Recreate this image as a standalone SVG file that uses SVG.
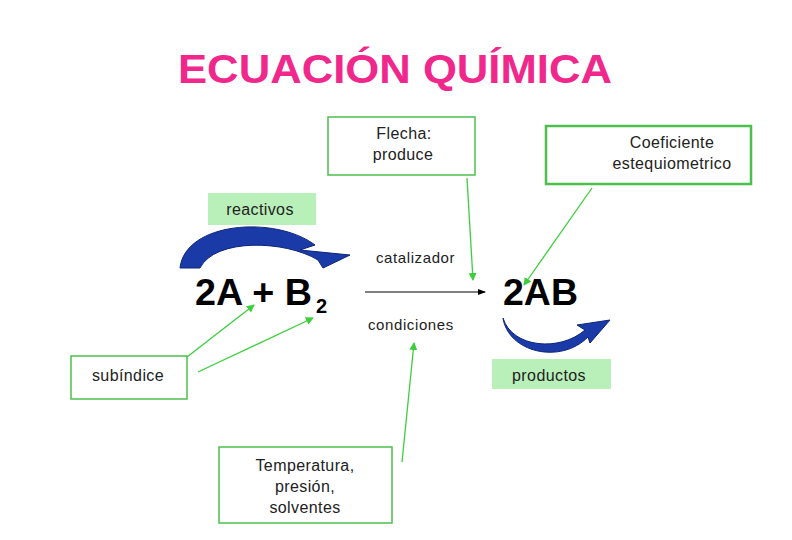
<svg xmlns="http://www.w3.org/2000/svg" width="792" height="540" viewBox="0 0 792 540">
<style>
.t{font-family:"Liberation Sans",Arial,sans-serif;fill:#222}
.lbl{font-size:16px;text-anchor:middle;letter-spacing:0.4px}
.box{fill:#fff;stroke:#4cc04c;stroke-width:1.5}
.fill{fill:#b9efb9}
.big{font-size:36px;fill:#000;font-weight:bold}
.g{stroke:#3ccf3c;stroke-width:1.3;fill:none;marker-end:url(#ga)}
</style>
<defs>
<marker id="ga" markerWidth="8" markerHeight="8" refX="7" refY="4" orient="auto" markerUnits="userSpaceOnUse"><path d="M0,0 L8,4 L0,8 z" fill="#3ccf3c"/></marker>
<marker id="ka" markerWidth="8" markerHeight="8" refX="7" refY="4" orient="auto" markerUnits="userSpaceOnUse"><path d="M0,1 L8,4 L0,7 z" fill="#000"/></marker>
</defs>
<rect width="792" height="540" fill="#fff"/>
<g id="title"><text x="178" y="83" class="t" font-size="40" font-weight="bold" textLength="434" lengthAdjust="spacingAndGlyphs" style="fill:#f0288c">ECUACIÓN QUÍMICA</text></g>
<g id="flecha"><rect class="box" x="328" y="117" width="147" height="58"/><text class="t lbl" x="404" y="139">Flecha:</text><text class="t lbl" x="403" y="160">produce</text></g>
<g id="coef"><rect class="box" x="546" y="126" width="205" height="58" style="stroke-width:2.5"/><text class="t lbl" x="672" y="148">Coeficiente</text><text class="t lbl" x="672" y="169">estequiometrico</text></g>
<g id="reactivos"><rect class="fill" x="208" y="193" width="108" height="32"/><text class="t lbl" x="260" y="215">reactivos</text></g>
<g id="subindice"><rect class="box" x="71" y="356" width="116" height="43"/><text class="t lbl" x="128" y="381">subíndice</text></g>
<g id="productos"><rect class="fill" x="492" y="359" width="119" height="30"/><text class="t lbl" x="549" y="381">productos</text></g>
<g id="temp"><rect class="box" x="219" y="447" width="173" height="76"/><text class="t lbl" x="305" y="471">Temperatura,</text><text class="t lbl" x="305" y="492">presión,</text><text class="t lbl" x="305" y="513">solventes</text></g>
<g id="eq">
<text class="t big" x="195" y="305" textLength="117" lengthAdjust="spacingAndGlyphs">2A + B</text><text class="t" x="316" y="313" font-size="20" font-weight="bold" style="fill:#000">2</text>
<text class="t big" x="503" y="305" textLength="75" lengthAdjust="spacingAndGlyphs">2AB</text>
<text class="t" x="376" y="263" font-size="15" style="letter-spacing:0.6px">catalizador</text>
<text class="t" x="368" y="330" font-size="15" style="letter-spacing:0.6px">condiciones</text>
</g>
<g id="blue" fill="#1a3aa8" stroke="#0d2478" stroke-width="1">
<path d="M180,268 C185,222 275,215 315,245 L300,250 L350,255 L323,268 L318,260 C285,240 215,238 200,268 Z"/>
<path d="M503,318 C512,348 560,352 585,330 L577,325 L610,320 L590,343 L588,337 C560,365 508,352 503,318 Z"/>
</g>
<g id="connectors">
<line x1="365" y1="292" x2="485" y2="292" stroke="#000" stroke-width="1" marker-end="url(#ka)"/>
<line class="g" x1="467" y1="178" x2="473" y2="280"/>
<line class="g" x1="592" y1="188" x2="524" y2="285"/>
<line class="g" x1="187" y1="357" x2="254" y2="305"/>
<line class="g" x1="198" y1="372" x2="313" y2="318"/>
<line class="g" x1="402" y1="462" x2="414" y2="343"/>
</g>
</svg>
